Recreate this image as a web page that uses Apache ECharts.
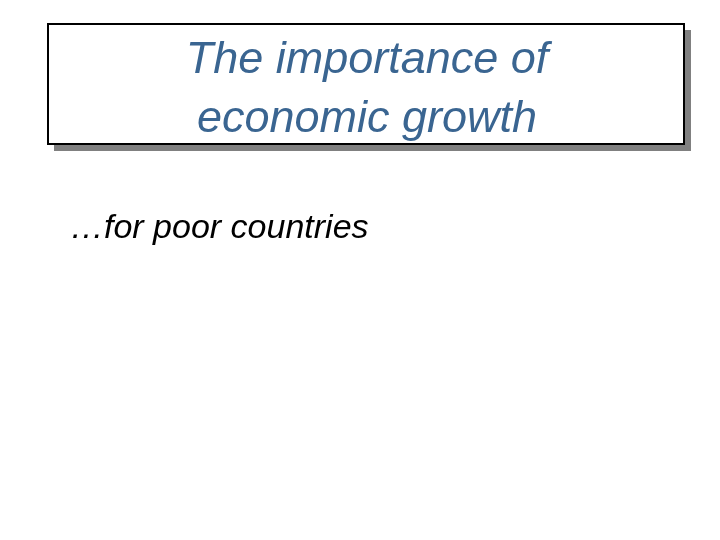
<!DOCTYPE html>
<html>
<head>
<meta charset="utf-8">
<script src="https://cdn.jsdelivr.net/npm/echarts@6/dist/echarts.min.js"></script>
<style>html,body{margin:0;padding:0;background:#fff;}#c{width:720px;height:540px;}</style>
</head>
<body>
<div id="c"></div>
<script>
var titleLines = ['The importance of', 'economic growth'];
var subtitleText = '\u2026for poor countries';

var chart = echarts.init(document.getElementById('c'));
var graphics = [
  { type: 'rect', shape: { x: 54, y: 30, width: 637, height: 121 }, style: { fill: '#808080' } },
  { type: 'rect', shape: { x: 48, y: 24, width: 636, height: 120 }, style: { fill: '#ffffff', stroke: '#000000', lineWidth: 2 } }
];
titleLines.forEach(function (t, i) {
  graphics.push({
    type: 'text', x: 367, y: 60 + i * 59,
    style: { text: t, fill: '#3a6591', font: 'italic 45px "Liberation Sans", Arial, sans-serif', align: 'center', verticalAlign: 'middle' }
  });
});
graphics.push({
  type: 'text', x: 70, y: 229,
  style: { text: subtitleText, fill: '#000000', font: 'italic 34px "Liberation Sans", Arial, sans-serif', align: 'left', verticalAlign: 'middle' }
});
chart.setOption({ backgroundColor: '#ffffff', animation: false, graphic: graphics });
</script>
</body>
</html>
